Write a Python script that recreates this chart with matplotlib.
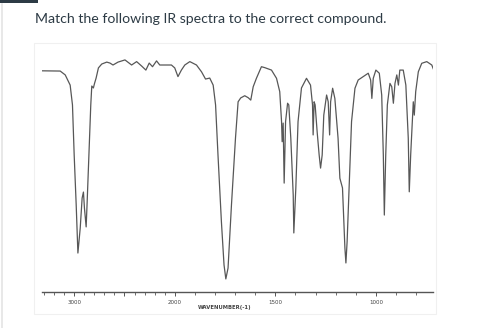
import numpy as np
import matplotlib
matplotlib.use("Agg")
import matplotlib.pyplot as plt
from matplotlib.patches import Rectangle
from matplotlib.lines import Line2D

# ---- data (wavenumber in cm-1, transmittance in %) ----
wavenumber = [3320, 3139, 3089, 3040, 3017, 3000, 2980, 2963, 2940, 2921, 2908, 2898,
              2881, 2871, 2854, 2835, 2825, 2809, 2799, 2782, 2759, 2726, 2676, 2644,
              2614, 2564, 2495, 2429, 2379, 2330, 2287, 2254, 2221, 2181, 2149, 2099,
              2033, 2000, 1984, 1967, 1950, 1925, 1892, 1867, 1847, 1826, 1809, 1797,
              1785, 1768, 1755, 1746, 1735, 1718, 1698, 1685, 1672, 1652, 1635, 1622,
              1610, 1594, 1569, 1552, 1519, 1494, 1478, 1469, 1466, 1461, 1456, 1449,
              1439, 1433, 1423, 1411, 1408, 1398, 1387, 1370, 1345, 1325, 1315, 1312,
              1307, 1302, 1292, 1282, 1275, 1267, 1259, 1245, 1237, 1230, 1225, 1215,
              1204, 1188, 1179, 1166, 1154, 1149, 1143, 1133, 1121, 1104, 1088, 1063,
              1038, 1026, 1020, 1013, 1000, 983, 971, 963, 958, 951, 943, 930,
              921, 913, 905, 896, 888, 881, 864, 851, 839, 834, 827, 819,
              814, 809, 802, 789, 772, 747, 722, 714]
transmittance = [91.4, 91.3, 89.7, 85.5, 77.3, 56.6, 36.0, 16.1, 26.4, 38.8, 41.3, 34.7,
                 26.9, 37.2, 56.6, 77.3, 85.1, 84.3, 86.0, 88.4, 92.6, 94.2, 95.0, 94.6,
                 93.8, 95.0, 95.9, 93.8, 95.2, 93.4, 91.7, 94.6, 93.1, 95.5, 93.8, 93.8,
                 93.8, 92.6, 89.0, 91.7, 93.8, 95.2, 93.8, 91.0, 88.0, 88.4, 85.5, 77.3,
                 56.6, 29.0, 11.2, 5.4, 9.9, 36.0, 63.6, 78.6, 80.2, 81.1, 80.3, 79.3,
                 84.8, 88.3, 93.1, 92.7, 91.7, 88.3, 82.8, 70.4, 62.1, 69.8, 45.0, 70.4,
                 78.0, 77.3, 63.6, 40.1, 24.4, 43.0, 70.4, 84.3, 88.3, 85.5, 77.3, 64.9,
                 78.6, 77.3, 66.2, 56.6, 51.2, 56.6, 73.1, 81.4, 78.6, 64.9, 78.6, 84.2,
                 80.0, 63.5, 47.0, 43.0, 18.2, 12.0, 20.8, 43.0, 70.4, 84.2, 87.6, 89.0,
                 90.4, 87.6, 80.0, 88.3, 91.7, 90.4, 81.4, 56.6, 31.8, 56.6, 77.3, 86.2,
                 84.8, 78.0, 86.2, 89.7, 85.5, 91.7, 91.7, 85.5, 63.6, 41.4, 56.6, 70.4,
                 78.6, 73.1, 82.8, 91.0, 94.5, 95.2, 93.8, 92.1]

major_ticks = [3000, 2500, 2000, 1500, 1000]
major_labels = ["3000", "", "2000", "1500", "1000"]
minor_ticks = list(range(3300, 700, -100))
title_text = "Match the following IR spectra to the correct compound."
xlabel_text = "WAVENUMBER(-1)"

W, H = 498, 328
fig = plt.figure(figsize=(W / 100, H / 100), dpi=100)
fig.patch.set_facecolor("white")

# decorative page elements
fig.add_artist(Rectangle((0, 1 - 3 / H), 38 / W, 3 / H, transform=fig.transFigure,
                         facecolor="#2d3b45", edgecolor="none"))
fig.add_artist(Line2D([1.5 / W, 1.5 / W], [0, 1 - 4 / H], transform=fig.transFigure,
                      color="#e4e4e4", lw=1.2))
fig.add_artist(Rectangle((34 / W, 1 - 314 / H), (436 - 34) / W, (314 - 43) / H,
                         transform=fig.transFigure, facecolor="none",
                         edgecolor="#f0f0f0", lw=0.8))

fig.text(35 / W, 1 - 19 / H, title_text, fontsize=10.2, family=["Lato", "DejaVu Sans"],
         color="#2d3b45", va="center", ha="left")

ax = fig.add_axes([42 / W, 1 - 292 / H, (433 - 42) / W, (292 - 50) / H])


def fwd(w):
    w = np.asarray(w, dtype=float)
    return np.where(w >= 2000, 2000 + (w - 2000) * 0.5, w)


def inv(u):
    u = np.asarray(u, dtype=float)
    return np.where(u >= 2000, 2000 + (u - 2000) * 2.0, u)


ax.set_xscale("function", functions=(fwd, inv))
ax.plot(wavenumber, transmittance, color="#575757", lw=0.9, solid_joinstyle="round")
ax.set_xlim(3320, 716)
ax.set_ylim(0, 100)

for s in ["top", "left", "right"]:
    ax.spines[s].set_visible(False)
ax.spines["bottom"].set_color("#555555")
ax.spines["bottom"].set_linewidth(1.0)
ax.set_yticks([])

ax.set_xticks(major_ticks)
ax.set_xticklabels(major_labels)
ax.set_xticks(minor_ticks, minor=True)
ax.tick_params(axis="x", which="major", direction="out", length=3, width=0.7,
               color="#555555", labelsize=4, labelcolor="#444444", pad=2.5)
ax.tick_params(axis="x", which="minor", direction="out", length=1.8, width=0.6,
               color="#555555")
ax.set_facecolor("none")

fig.text(225 / W, 1 - 307 / H, xlabel_text, fontsize=3.8, fontweight="bold",
         color="#444444", ha="center", va="center")

fig.savefig("out.png", dpi=100, facecolor="white")
